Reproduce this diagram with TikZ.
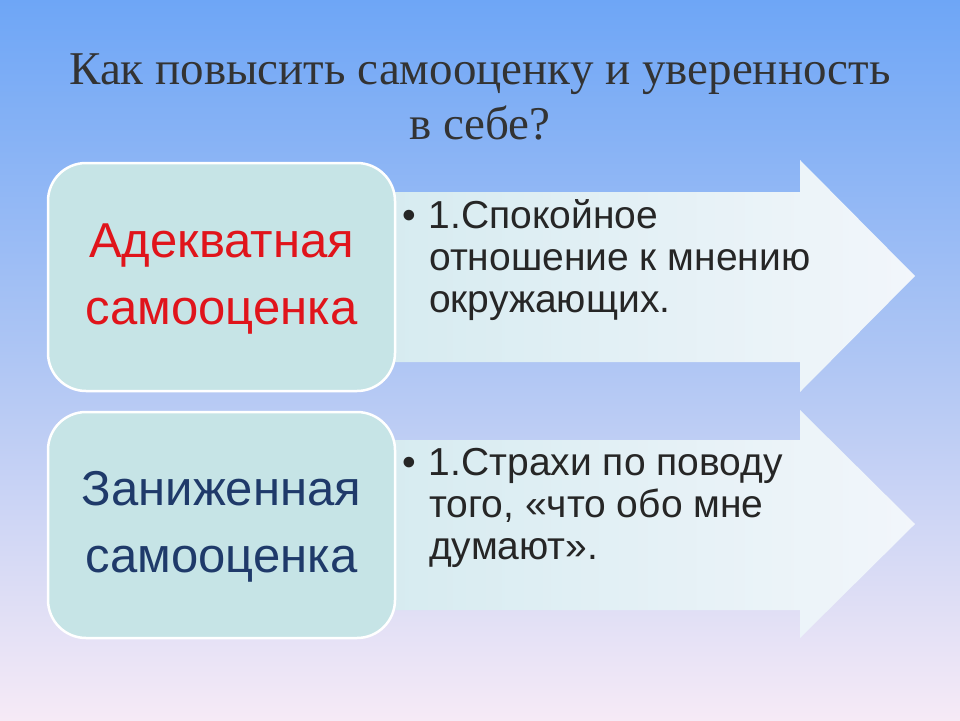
\documentclass[tikz,border=0pt]{standalone}
\usepackage{fontspec}
\setmainfont{Liberation Sans}
\newfontfamily\titlefont{Liberation Serif}
\definecolor{bgtop}{HTML}{6EA6F6}
\definecolor{bgmid}{HTML}{AFC6F4}
\definecolor{bgbot}{HTML}{F6EAF6}
\definecolor{boxfill}{HTML}{C6E4E6}
\definecolor{redtxt}{HTML}{E0141B}
\definecolor{navytxt}{HTML}{1F3A6A}
\definecolor{arrL}{HTML}{D6EBF0}
\definecolor{arrR}{HTML}{F2F6FB}
\tikzset{
  x=1pt,y=-1pt,
  cbox/.style={draw=white,line width=2.5pt,fill=boxfill,rounded corners=38pt},
  arrowshape/.style={left color=arrL,right color=arrR,draw=none},
  boxtext/.style={font=\fontsize{49}{67}\selectfont,align=center},
  bullettext/.style={font=\fontsize{39}{42}\selectfont,align=left,anchor=north west,text=black!85,inner sep=0pt}
}
\begin{document}
\begin{tikzpicture}
\shade[top color=bgtop,bottom color=bgbot,middle color=bgmid] (0,0) rectangle (960,720);
\useasboundingbox (0,0) rectangle (960,720);
\node[font=\titlefont\fontsize{47}{55}\selectfont,text=black!80,align=center] (title) at (480,97) {Как повысить самооценку  и уверенность\\в себе?};
% arrows
\path[arrowshape] (380,192) -- (800,192) -- (800,160) -- (915,276) -- (800,392) -- (800,362) -- (380,362) -- cycle;
\path[arrowshape] (380,440) -- (800,440) -- (800,410) -- (915,524) -- (800,638) -- (800,610) -- (380,610) -- cycle;
% boxes
\draw[cbox] (48,163) rectangle (395,391);
\node (b1) at (221.5,279) {};
\draw[cbox] (48,412) rectangle (395,638);
\node (b2) at (221.5,527) {};
\node[boxtext,text=redtxt] at (b1) {Адекватная\\самооценка};
\node[boxtext,text=navytxt] at (b2) {Заниженная\\самооценка};
\node[bullettext] (t1) at (402,199) {•\hspace{13pt}1.Спокойное\\\hspace{27pt}отношение к мнению\\\hspace{27pt}окружающих.};
\node[bullettext] (t2) at (402,448) {•\hspace{13pt}1.Страхи по поводу\\\hspace{27pt}того, «что обо мне\\\hspace{27pt}думают».};
\end{tikzpicture}
\end{document}
